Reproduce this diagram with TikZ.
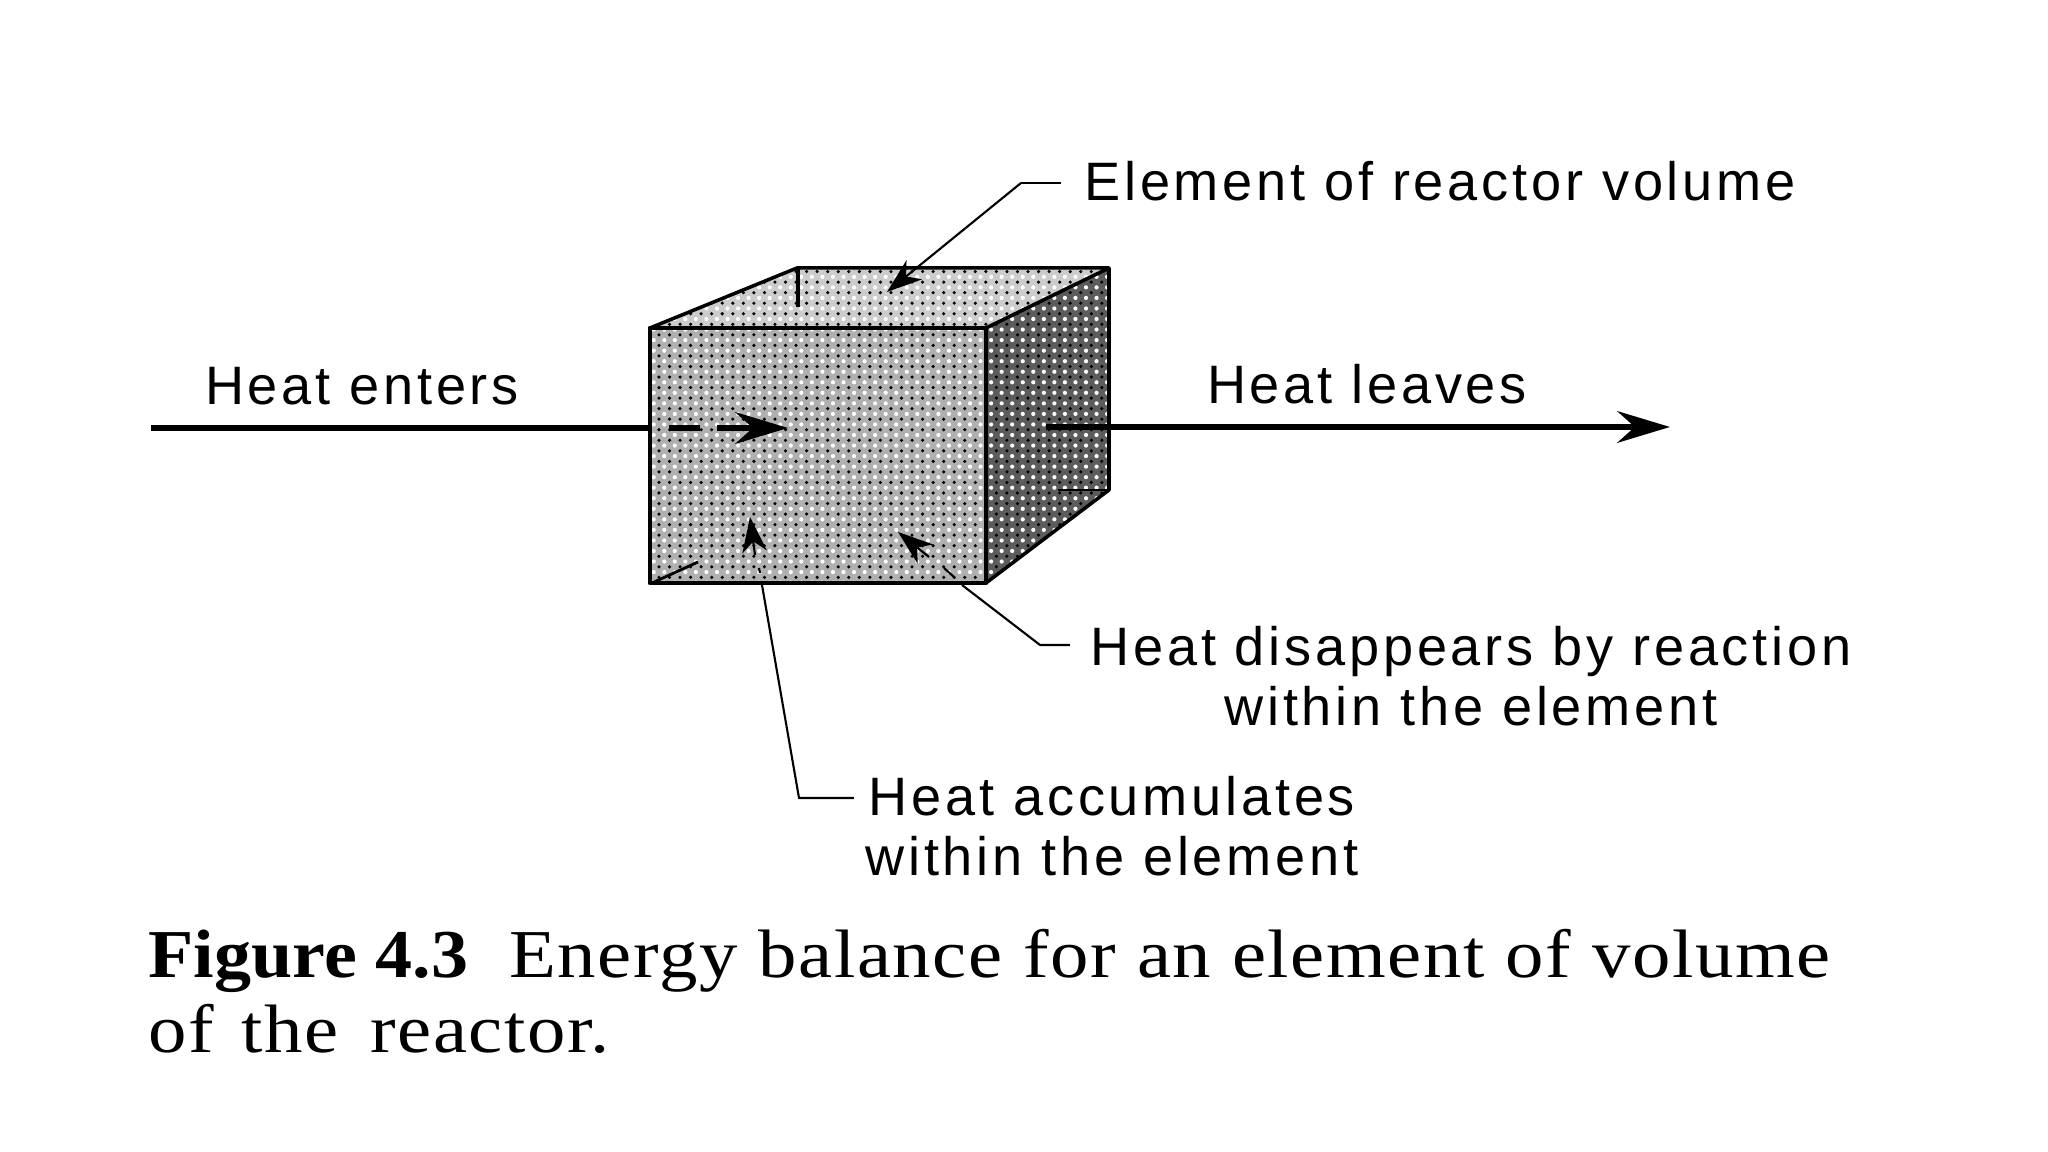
\documentclass[tikz,border=0pt]{standalone}
\usepackage{fontspec}
\setmainfont[LetterSpace=2.4, FakeStretch=1.12, BoldFeatures={LetterSpace=0, FakeStretch=1.08}]{Liberation Serif}
\newfontfamily\labelfont[LetterSpace=7]{Liberation Sans}
\usetikzlibrary{arrows.meta, patterns.meta}
\tikzset{
  lab/.style={inner sep=0pt, align=center, font=\labelfont\fontsize{15.4}{17.1}\selectfont},
  figcap/.style={inner sep=0pt, align=left, font=\fontsize{19.5}{21.3}\selectfont},
  flow/.style={line width=1.6pt},
  lead/.style={line width=0.6pt},
  bigtip/.style={-{Stealth[length=15pt, width=9pt, inset=5pt]}},
  smalltip/.style={-{Stealth[length=10pt, width=7pt, inset=3pt]}},
  halftone/.style={
    postaction={pattern={Dots[distance=3pt, radius=0.6pt]}, pattern color=white},
    postaction={pattern={Dots[distance=3pt, radius=0.5pt, xshift=1.5pt, yshift=1.5pt]}, pattern color=black}}
}
\begin{document}
\begin{tikzpicture}
\useasboundingbox (0,0) rectangle (20.48,11.52);
% cube faces
\fill [black!64, halftone] (9.86,5.69) -- (11.09,6.62) -- (11.09,8.84) -- (9.86,8.24) -- cycle;
\fill [black!20, halftone] (6.50,8.24) -- (7.97,8.84) -- (11.09,8.84) -- (9.86,8.24) -- cycle;
\fill [black!31, halftone] (6.50,5.69) rectangle (9.86,8.24);
\draw [line width=1.4pt, line join=round] (6.50,5.69) rectangle (9.86,8.24);
\draw [line width=1pt, line join=round] (6.50,8.24) -- (7.97,8.84) -- (11.09,8.84) -- (9.86,8.24);
\draw [line width=1pt, line join=round] (11.09,8.84) -- (11.09,6.62) -- (9.86,5.69);
% hidden edges showing through
\draw [line width=1pt] (7.98,8.84) -- (7.98,8.45);
\draw [line width=0.8pt] (6.52,5.69) -- (6.98,5.90);
\draw [line width=0.8pt] (10.58,6.62) -- (11.09,6.62);
% labels
\node [lab, anchor=base] (volume) at (14.40,9.51) {Element of reactor volume};
\node [lab, anchor=base] (enters) at (3.62,7.47) {Heat enters};
\node [lab, anchor=base] (leaves) at (13.67,7.48) {Heat leaves};
\node [lab, anchor=center] (disappears) at (14.71,4.76) {Heat disappears by reaction\\within the element};
\node [lab, anchor=center] (accumulates) at (11.12,3.26) {Heat accumulates\\within the element};
\node [figcap, anchor=north west] (caption) at (1.48,2.235) {\textbf{Figure 4.3}\hspace{0.6em}Energy balance for an element of volume\\of\hspace{0.1em} the\hspace{0.15em} reactor.};
% named ends
\coordinate (inA) at (1.51,7.24);
\coordinate (inB) at (6.50,7.24);
\coordinate (dashA) at (6.69,7.24);
\coordinate (dashB) at (7.00,7.24);
\coordinate (dashC) at (7.17,7.24);
\coordinate (dashD) at (7.88,7.24);
\coordinate (outA) at (10.46,7.25);
\coordinate (outB) at (16.70,7.25);
\coordinate (volBend) at (10.21,9.69);
\coordinate (volTip) at (8.87,8.60);
\coordinate (disBend) at (10.40,5.07);
\coordinate (disEnd) at (9.62,5.67);
\coordinate (disA) at (9.54,5.75);
\coordinate (disB) at (9.44,5.84);
\coordinate (disC) at (9.29,5.95);
\coordinate (disTip) at (8.98,6.20);
\coordinate (accBend) at (7.99,3.54);
\coordinate (accEnd) at (7.62,5.67);
\coordinate (accA) at (7.60,5.79);
\coordinate (accB) at (7.59,5.84);
\coordinate (accC) at (7.55,5.97);
\coordinate (accTip) at (7.50,6.35);
% heat flow
\draw [flow] (inA) -- (inB);
\draw [flow] (dashA) -- (dashB);
\draw [flow, bigtip] (dashC) -- (dashD);
\draw [flow, bigtip] (outA) -- (outB);
% leaders
\draw [lead] (volume.west |- volBend) ++(-0.23,0) -- (volBend);
\draw [lead, smalltip] (volBend) -- (volTip);
\draw [lead] (disappears.west |- disBend) ++(-0.20,0) -- (disBend) -- (disEnd);
\draw [lead] (disA) -- (disB);
\draw [lead, smalltip] (disC) -- (disTip);
\draw [lead] (accumulates.west |- accBend) ++(-0.11,0) -- (accBend) -- (accEnd);
\draw [lead] (accA) -- (accB);
\draw [lead, smalltip] (accC) -- (accTip);
\end{tikzpicture}
\end{document}
